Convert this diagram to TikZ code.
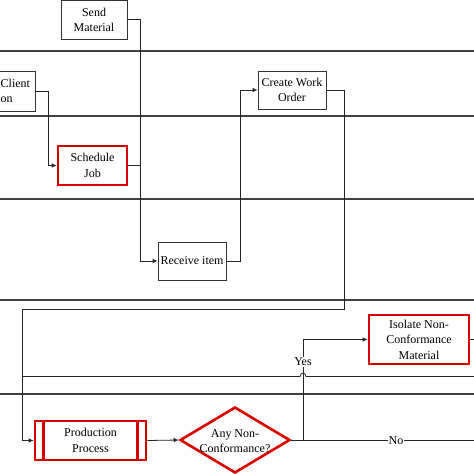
\documentclass[tikz,border=0pt]{standalone}
\usepackage{fontspec}
\setmainfont{Liberation Serif}
\usetikzlibrary{shapes.geometric,arrows.meta}
\begin{document}
\begin{tikzpicture}[x=1pt,y=-1pt,
  lane/.style={draw=black!75,line width=1.3pt},
  conn/.style={draw=black!85,line width=0.8pt},
  arr/.style={conn,-{Latex[length=5pt,width=4.5pt]}},
  box/.style={draw=black!80,line width=0.8pt,rectangle,align=center,inner sep=0pt,
    font=\fontsize{12}{15.5}\selectfont},
  redbox/.style={box,draw=red!85!black,line width=2.6pt},
  txt/.style={align=center,inner sep=0pt,font=\fontsize{12}{15.5}\selectfont}]
\useasboundingbox (0,0) rectangle (474,474);
\clip (0,0) rectangle (474,474);
% lane separators
\foreach \yy in {51,116,199,300,394}
  \draw[lane] (0,\yy) -- (474,\yy);
% nodes
\node[box,minimum width=66pt,minimum height=38.5pt] (send) at (94,19.75) {Send\\Material};
\node[box,minimum width=75pt,minimum height=40pt] (client) at (-2.5,91) {};
\node[txt,anchor=west,align=left] (clienttxt) at (0.5,91) {Client\\on};
\node[redbox,minimum width=69pt,minimum height=39pt] (sched) at (92.5,165.5) {Schedule\\Job};
\node[box,minimum width=68pt,minimum height=38pt] (cwo) at (292,90) {Create Work\\Order};
\node[box,minimum width=68pt,minimum height=38pt] (recv) at (192,261) {Receive item};
\node[redbox,minimum width=111pt,minimum height=39pt] (prod) at (90.5,440.5) {Production\\Process};
\draw[draw=red!85!black,line width=2.6pt] ([xshift=10pt]prod.north west) -- ([xshift=10pt]prod.south west);
\draw[draw=red!85!black,line width=2.6pt] ([xshift=-10pt]prod.north east) -- ([xshift=-10pt]prod.south east);
\node[draw=red!85!black,line width=2.6pt,diamond,minimum width=110pt,minimum height=66pt,inner sep=0pt] (dia) at (235,440) {};
\node[txt] (diatxt) at (235,441) {Any Non-\\Conformance?};
\node[redbox,minimum width=100pt,minimum height=49pt] (iso) at (419,339.5) {Isolate Non-\\Conformance\\Material};
% coordinates
\coordinate (vx) at (140,20);
\coordinate (vc) at (240,90);
\coordinate (vr) at (344,90);
\coordinate (loopl) at (22,309);
\coordinate (jy) at (303,440);
\coordinate (edgeno) at (474,440);
\coordinate (edgeiso) at (474,339.5);
\coordinate (retl) at (22,376.5);
\coordinate (retr) at (474,376.5);
% connectors
\draw[arr] (send.east) -- (send.east -| vx) |- (recv.west);
\draw[arr] (client.east) -- ++(13,0) |- (sched.west);
\draw[conn] (sched.east) -- (sched.east -| vx);
\draw[arr] (recv.east) -- (recv.east -| vc) |- (cwo.west);
\draw[arr] (cwo.east) -- (cwo.east -| vr) |- (loopl) |- (prod.west);
\draw[arr] (prod.east) -- (dia.west);
\draw[conn] (dia.east) -- (edgeno);
\node[txt,fill=white,inner sep=1pt] (nolbl) at (396,441) {No};
\draw[conn] (retl) -- (300,376.5) .. controls (300,372) and (306,372) .. (306,376.5) -- (retr);
\draw[arr] (jy) -- (jy |- iso.west) -- (iso.west);
\node[txt,fill=white,inner sep=1pt] (yeslbl) at (303,362) {Yes};
\draw[conn] (iso.east) -- (edgeiso);
\end{tikzpicture}
\end{document}
